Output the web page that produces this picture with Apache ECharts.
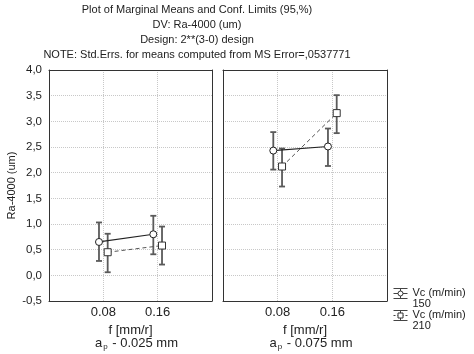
<!DOCTYPE html>
<html>
<head>
<meta charset="utf-8">
<script src="https://cdn.jsdelivr.net/npm/echarts@6/dist/echarts.min.js"></script>
<style>
  html, body { margin: 0; padding: 0; background: #fff; }
  #chart { width: 474px; height: 354px; }
</style>
</head>
<body>
<div id="chart"></div>
<script>
// f levels (x axis categories) and the two a_p panels
var fLabels = ['0.08', '0.16'];
var apLabels = ['0.025', '0.075'];
var seriesNames = ['150', '210'];
var yTicks = { min: -0.5, max: 4.0, step: 0.5 };

// means and 95% limits, one row per panel, one value per f level
var mean150 = [[0.65, 0.80], [2.43, 2.51]];
var low150  = [[0.28, 0.41], [2.06, 2.13]];
var high150 = [[1.03, 1.16], [2.79, 2.86]];
var mean210 = [[0.45, 0.58], [2.12, 3.16]];
var low210  = [[0.06, 0.21], [1.73, 2.77]];
var high210 = [[0.81, 0.95], [2.47, 3.51]];

var chart = echarts.init(document.getElementById('chart'));
var FONT = 'Liberation Sans, Arial, sans-serif';
var shift = 0.08; // small horizontal offset so the two series don't overlap

function comma(v) { return v.toFixed(1).replace('.', ','); }

function errRender(params, api) {
  var x = api.value(0);
  var lo = api.coord([x, api.value(1)]);
  var hi = api.coord([x, api.value(2)]);
  var c = 3;
  var st = { stroke: '#5a5a5a', lineWidth: 1.8 };
  return {
    type: 'group',
    children: [
      { type: 'line', shape: { x1: lo[0], y1: lo[1], x2: hi[0], y2: hi[1] }, style: st },
      { type: 'line', shape: { x1: lo[0] - c, y1: lo[1], x2: lo[0] + c, y2: lo[1] }, style: st },
      { type: 'line', shape: { x1: hi[0] - c, y1: hi[1], x2: hi[0] + c, y2: hi[1] }, style: st }
    ]
  };
}

var grids = [
  { left: 49, top: 70, width: 163, height: 231 },
  { left: 223, top: 70, width: 164, height: 231 }
];
var xAxes = [], yAxes = [], series = [];

grids.forEach(function (g, p) {
  xAxes.push({
    gridIndex: p, type: 'value', min: 0, max: 3, interval: 1,
    name: 'f [mm/r]', nameLocation: 'middle', nameGap: 21,
    nameTextStyle: { fontFamily: FONT, fontSize: 13, color: '#222' },
    axisLine: { show: true, onZero: false, lineStyle: { color: '#333' } },
    axisTick: { show: false },
    axisLabel: {
      fontFamily: FONT, fontSize: 13, color: '#222', margin: 5,
      formatter: function (v) { return v >= 1 && v <= 2 ? fLabels[v - 1] : ''; }
    },
    splitLine: { show: true, lineStyle: { color: '#c8c8c8', type: 'dotted' } }
  });
  xAxes.push({
    gridIndex: p, type: 'value', min: 0, max: 3, position: 'top',
    axisLine: { show: true, onZero: false, lineStyle: { color: '#333' } },
    axisTick: { show: false }, axisLabel: { show: false }, splitLine: { show: false }
  });
  yAxes.push({
    gridIndex: p, type: 'value', min: yTicks.min, max: yTicks.max, interval: yTicks.step,
    name: p === 0 ? 'Ra-4000 (um)' : '', nameLocation: 'middle', nameGap: 32,
    nameTextStyle: { fontFamily: FONT, fontSize: 11, color: '#222' },
    axisLine: { show: true, onZero: false, lineStyle: { color: '#333' } },
    axisTick: { show: false },
    axisLabel: { show: p === 0, fontFamily: FONT, fontSize: 11.5, color: '#222', margin: 7, formatter: comma },
    splitLine: { show: true, lineStyle: { color: '#c8c8c8', type: 'dotted' } }
  });
  yAxes.push({
    gridIndex: p, type: 'value', min: yTicks.min, max: yTicks.max, position: 'right',
    axisLine: { show: true, onZero: false, lineStyle: { color: '#333' } },
    axisTick: { show: false }, axisLabel: { show: false }, splitLine: { show: false }
  });

  var xi = p * 2, yi = p * 2;
  var pts150 = fLabels.map(function (f, i) { return [i + 1 - shift, mean150[p][i]]; });
  var pts210 = fLabels.map(function (f, i) { return [i + 1 + shift, mean210[p][i]]; });
  var eb150 = fLabels.map(function (f, i) { return [i + 1 - shift, low150[p][i], high150[p][i]]; });
  var eb210 = fLabels.map(function (f, i) { return [i + 1 + shift, low210[p][i], high210[p][i]]; });

  series.push({ type: 'custom', xAxisIndex: xi, yAxisIndex: yi, renderItem: errRender,
    data: eb150, encode: { x: 0, y: [1, 2] }, z: 2, silent: true });
  series.push({ type: 'custom', xAxisIndex: xi, yAxisIndex: yi, renderItem: errRender,
    data: eb210, encode: { x: 0, y: [1, 2] }, z: 2, silent: true });
  series.push({ type: 'line', xAxisIndex: xi, yAxisIndex: yi, data: pts150, z: 3,
    symbol: 'circle', symbolSize: 7,
    itemStyle: { color: '#fff', borderColor: '#222', borderWidth: 1 },
    lineStyle: { color: '#222', width: 1.2 } });
  series.push({ type: 'line', xAxisIndex: xi, yAxisIndex: yi, data: pts210, z: 3,
    symbol: 'rect', symbolSize: 7,
    itemStyle: { color: '#fff', borderColor: '#333', borderWidth: 1 },
    lineStyle: { color: '#555', width: 1, type: [4, 3] } });
});

// legend drawn by hand: error-bar glyph with marker, then label
function legendItem(y, marker, dashed, label) {
  var st = { stroke: '#444', lineWidth: 1 };
  return {
    type: 'group', left: 391, top: y,
    children: [
      { type: 'line', shape: { x1: 0, y1: 0, x2: 14, y2: 0 }, style: st },
      { type: 'line', shape: { x1: 0, y1: 10, x2: 14, y2: 10 }, style: st },
      { type: 'line', shape: { x1: 7, y1: 0, x2: 7, y2: 10 }, style: st },
      { type: 'line', shape: { x1: 0, y1: 5, x2: 14, y2: 5 },
        style: { stroke: '#444', lineWidth: 1, lineDash: dashed ? [2, 2] : null } },
      marker === 'circle'
        ? { type: 'circle', shape: { cx: 7, cy: 5, r: 2.5 }, style: { fill: '#fff', stroke: '#333' } }
        : { type: 'rect', shape: { x: 4.5, y: 2.5, width: 5, height: 5 }, style: { fill: '#fff', stroke: '#333' } },
      { type: 'text', left: 19, top: -1, style: { text: 'Vc (m/min)\n' + label, font: '11px ' + FONT, fill: '#222', lineHeight: 11 } }
    ]
  };
}

var titleLines = [
  'Plot of Marginal Means and Conf. Limits (95,%)',
  'DV: Ra-4000 (um)',
  'Design: 2**(3-0) design',
  'NOTE: Std.Errs. for means computed from MS Error=,0537771'
];

var apTitles = apLabels.map(function (a, p) {
  var g = grids[p];
  return {
    text: '{a|a}{s|p}{a| - ' + a + ' mm}',
    left: g.left + g.width / 2 + 6, top: 335, textAlign: 'center', padding: 0,
    textStyle: { rich: {
      a: { fontFamily: FONT, fontSize: 13, fontWeight: 'normal', color: '#222' },
      s: { fontFamily: FONT, fontSize: 8, fontWeight: 'normal', color: '#222', padding: [8, 1, 0, 1] }
    } }
  };
});

chart.setOption({
  animation: false,
  backgroundColor: '#fff',
  title: [{
    text: titleLines.join('\n'), left: 197, top: 2, textAlign: 'center', padding: 0,
    textStyle: { fontFamily: FONT, fontSize: 11, fontWeight: 'normal', color: '#222', lineHeight: 15 }
  }].concat(apTitles),
  grid: grids,
  xAxis: xAxes,
  yAxis: yAxes,
  series: series,
  graphic: [
    legendItem(286, 'circle', false, seriesNames[0]),
    legendItem(308, 'rect', true, seriesNames[1])
  ]
});
</script>
</body>
</html>
